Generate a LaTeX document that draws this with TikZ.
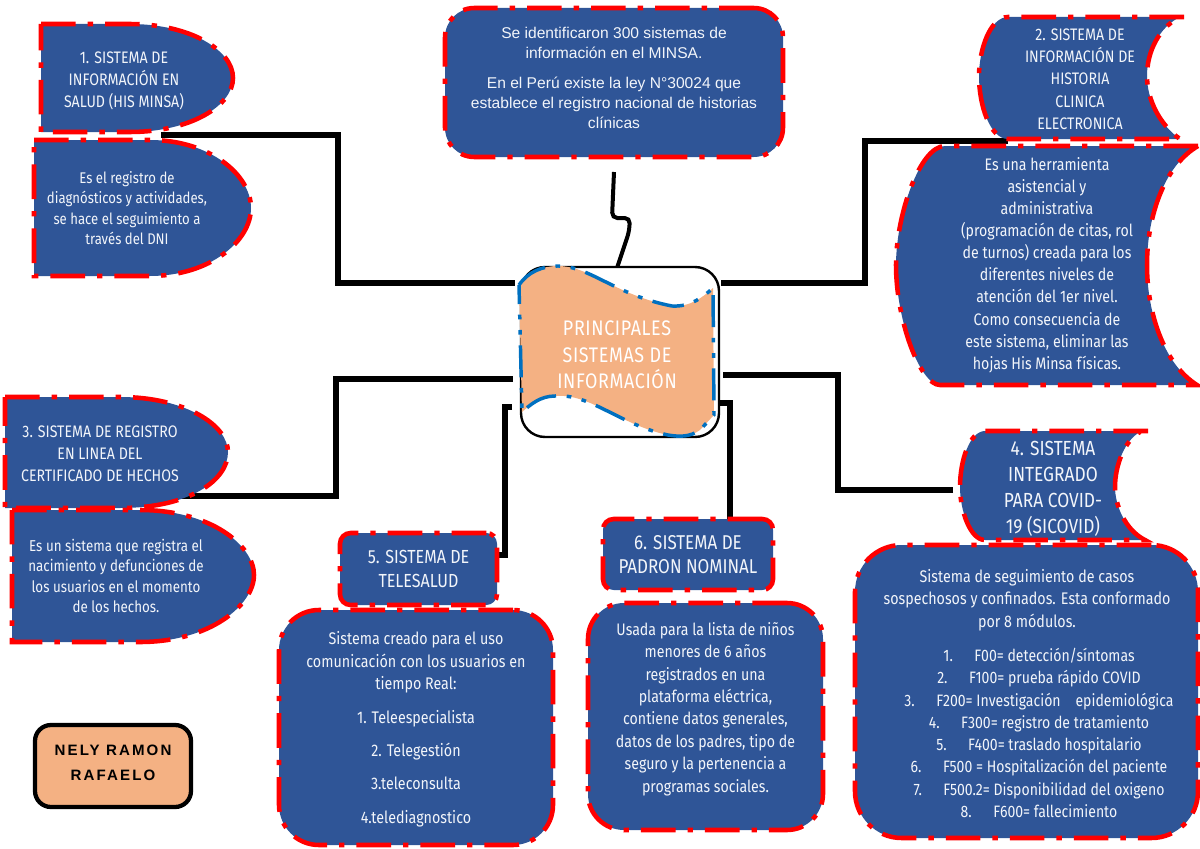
\documentclass[tikz,border=0pt]{standalone}
\usepackage{fontspec}
\setmainfont{Fira Sans}[FakeStretch=0.85]
\newfontfamily\arialf{Liberation Sans}
\newfontfamily\nelyf[LetterSpace=14]{Liberation Sans}
\newfontfamily\hubf[LetterSpace=3,FakeStretch=0.85]{Fira Sans}
\definecolor{boxblue}{HTML}{2F5597}
\definecolor{boxred}{HTML}{FF0000}
\definecolor{wave}{HTML}{0070C0}
\definecolor{peach}{HTML}{F4B183}
\definecolor{txtw}{HTML}{F2F5FA}
\tikzset{
 redbox/.style={fill=boxblue,draw=boxred,line width=3.4pt,dash pattern=on 26pt off 9pt on 4pt off 9pt},
 roundbox/.style={redbox,rounded corners=#1,inner sep=0pt,text=txtw,align=center},
 txt/.style={text=txtw,align=center,inner sep=0pt},
 conn/.style={draw=black,line width=3.8pt,miter limit=10},
}
\begin{document}
\begin{tikzpicture}[x=0.75pt,y=-0.75pt]
\useasboundingbox (0,0) rectangle (1200,849);
% anchor points of connectors
\coordinate (h1) at (515,283);\coordinate (h1b) at (338,283);\coordinate (h1c) at (338,135);\coordinate (s1) at (161,135);
\coordinate (h2) at (721,283);\coordinate (h2b) at (865,283);\coordinate (h2c) at (865,141);\coordinate (s2) at (1008,141);
\coordinate (h3) at (513,379);\coordinate (h3b) at (336,379);\coordinate (h3c) at (336,496);\coordinate (s3) at (180,496);
\coordinate (h4) at (723,375);\coordinate (h4b) at (838,375);\coordinate (h4c) at (838,490);\coordinate (s4) at (953,490);
\coordinate (h5) at (512,407);\coordinate (h5b) at (505,407);\coordinate (h5c) at (505,555);\coordinate (s5) at (497,555);
\coordinate (h6) at (718,403);\coordinate (h6b) at (730,403);\coordinate (s6) at (730,520);
\coordinate (ht) at (617,268);\coordinate (st) at (614,172);
% connectors
\draw[conn] (s1)--(h1c)--(h1b)--(h1);
\draw[conn] (s2)--(h2c)--(h2b)--(h2);
\draw[conn,line width=4.8pt] (s3)--(h3c)--(h3b)--(h3);
\draw[conn] (s4)--(h4c)--(h4b)--(h4);
\draw[conn] (h5)--(h5b)--(h5c)--(s5);
\draw[conn] (h6)--(h6b)--(s6);
\draw[conn,line width=3pt,rounded corners=4pt] (st)--(612,218)--(630,218)--(629,232)--(ht);
% hub
\node[draw=black,line width=1.8pt,fill=white,rounded corners=18pt,minimum width=198*0.75pt,minimum height=170*0.75pt,inner sep=0pt] (hub) at (620,352) {};
\fill[peach] (519,285) .. controls (528,272) and (542,266) .. (558,266) .. controls (590,266) and (615,295) .. (672,306) .. controls (690,307) and (702,298) .. (713,288) -- (714,415) -- (700,430) .. controls (690,437) and (680,437) .. (668,435) .. controls (620,425) and (590,393) .. (555,396) .. controls (540,396) and (530,405) .. (522,412) -- cycle;
\draw[wave,line width=2.6pt,dash pattern=on 24pt off 8pt on 3.5pt off 8pt on 3.5pt off 8pt] (519,285) .. controls (528,272) and (542,266) .. (558,266) .. controls (590,266) and (615,295) .. (672,306) .. controls (690,307) and (702,298) .. (713,288) -- (714,415) -- (700,430) .. controls (690,437) and (680,437) .. (668,435) .. controls (620,425) and (590,393) .. (555,396) .. controls (540,396) and (530,405) .. (522,412) -- cycle;
\node[txt,font=\hubf\fontsize{15.8}{20}\selectfont,text=white] (hubt) at (617,355) {PRINCIPALES\\SISTEMAS DE\\INFORMACIÓN};
% top box
\node[roundbox=22pt,minimum width=338*0.75pt,minimum height=149*0.75pt] (top) at (614,82.5) {};
\node[txt,font=\arialf\fontsize{11.7}{15}\selectfont] (topt) at (614,78) {Se identificaron 300 sistemas de\\información en el MINSA.\\[7pt]En el Perú existe la ley N°30024 que\\establece el registro nacional de historias\\clínicas};
% 1
\draw[redbox] (41,24) -- (130,24) .. controls (190,24) and (233,50) .. (233,78) .. controls (233,106) and (190,132) .. (130,132) -- (41,132) -- cycle;
\node[txt,font=\fontsize{12.5}{16.5}\selectfont] (t1) at (124,81) {1. SISTEMA DE\\INFORMACIÓN EN\\SALUD (HIS MINSA)};
\draw[redbox] (34,140) -- (150,140) .. controls (210,140) and (251,175) .. (251,208) .. controls (251,241) and (210,276) .. (150,276) -- (34,276) -- cycle;
\node[txt,font=\fontsize{11.6}{15.2}\selectfont] (t1b) at (127,208) {Es el registro de\\diagnósticos y actividades,\\se hace el seguimiento a\\través del DNI};
% 2
\draw[redbox] (1184,17) -- (1008,17) .. controls (990,17) and (979,50) .. (979,76) .. controls (979,105) and (990,139) .. (1008,139) -- (1180,139) .. controls (1160,125) and (1147,100) .. (1147,76) .. controls (1147,50) and (1160,28) .. (1178,18);
\node[txt,font=\fontsize{12.5}{16.7}\selectfont] (t2) at (1080,79) {2. SISTEMA DE\\INFORMACIÓN DE\\HISTORIA\\CLINICA\\ELECTRONICA};
\draw[redbox] (1198,146) -- (945,146) .. controls (920,146) and (896,215) .. (896,265) .. controls (896,320) and (920,385) .. (940,385) -- (1197,385) .. controls (1165,365) and (1147,315) .. (1147,265) .. controls (1147,215) and (1165,165) .. (1198,146);
\node[txt,font=\fontsize{12.5}{16.6}\selectfont] (t2b) at (1047,265) {Es una herramienta\\asistencial y\\administrativa\\(programación de citas, rol\\de turnos) creada para los\\diferentes niveles de\\atención del 1er nivel.\\Como consecuencia de\\este sistema, eliminar las\\hojas His Minsa físicas.};
% 3
\draw[redbox] (5,397) -- (120,397) .. controls (185,397) and (228,425) .. (228,452) .. controls (228,480) and (190,508) .. (120,508) -- (5,508) -- cycle;
\node[txt,font=\fontsize{12.5}{16.5}\selectfont] (t3) at (100,454) {3. SISTEMA DE REGISTRO\\EN LINEA DEL\\CERTIFICADO DE HECHOS};
\draw[redbox] (12,510) -- (140,510) .. controls (210,510) and (254,545) .. (254,575) .. controls (254,605) and (210,642) .. (140,642) -- (12,642) -- cycle;
\node[txt,font=\fontsize{11.8}{15.2}\selectfont] (t3b) at (116,576) {Es un sistema que registra el\\nacimiento y defunciones de\\los usuarios en el momento\\de los hechos.};
% 4
\draw[redbox] (1148,431) -- (985,431) .. controls (970,431) and (960,460) .. (960,487) .. controls (960,510) and (970,540) .. (985,540) -- (1145,540) .. controls (1125,530) and (1115,505) .. (1115,487) .. controls (1115,465) and (1125,440) .. (1140,432);
\begin{scope}
\clip (960,431) rectangle (1150,535);
\node[txt,font=\fontsize{15.3}{19.4}\selectfont] (t4) at (1053,489) {4. SISTEMA\\INTEGRADO\\PARA COVID-\\19 (SICOVID)};
\end{scope}
\node[roundbox=35pt,minimum width=343*0.75pt,minimum height=293*0.75pt] (b4) at (1026.5,691.5) {};
\node[txt,font=\fontsize{12.6}{17}\selectfont] (t4a) at (1027,600) {Sistema de seguimiento de casos\\sospechosos y confinados. Esta conformado\\por 8 módulos.};
\node[txt,font=\fontsize{12.4}{16.7}\selectfont] (t4c) at (1039,733) {1.\hspace{1.3em}F00= detección/síntomas\\2.\hspace{1.3em}F100= prueba rápido COVID\\3.\hspace{1.3em}F200= Investigación\hspace{0.9em}epidemiológica\\4.\hspace{1.3em}F300= registro de tratamiento\\5.\hspace{1.3em}F400= traslado hospitalario\\6.\hspace{1.3em}F500 = Hospitalización del paciente\\7.\hspace{1.3em}F500.2= Disponibilidad del oxigeno\\8.\hspace{1.3em}F600= fallecimiento};
% 5
\node[roundbox=8pt,minimum width=157*0.75pt,minimum height=72*0.75pt,font=\fontsize{14.2}{18}\selectfont] (b5) at (418.5,569) {5. SISTEMA DE\\TELESALUD};
\node[roundbox=30pt,minimum width=274*0.75pt,minimum height=235*0.75pt] (b5b) at (416,727.5) {};
\node[txt,font=\fontsize{12.6}{17}\selectfont] (t5b) at (416,729) {Sistema creado para el uso\\comunicación con los usuarios en\\tiempo Real:\\[8pt]1. Teleespecialista\\[8pt]2. Telegestión\\[8pt]3.teleconsulta\\[8pt]4.telediagnostico};
% 6
\node[roundbox=8pt,minimum width=170*0.75pt,minimum height=71*0.75pt,font=\fontsize{15}{18}\selectfont] (b6) at (688,554.5) {6. SISTEMA DE\\PADRON NOMINAL};
\node[roundbox=27pt,minimum width=235*0.75pt,minimum height=227*0.75pt] (b6b) at (705.5,716.5) {};
\node[txt,font=\fontsize{12.5}{16.8}\selectfont] (t6b) at (705.5,709) {Usada para la lista de niños\\menores de 6 años\\registrados en una\\plataforma eléctrica,\\contiene datos generales,\\datos de los padres, tipo de\\seguro y la pertenencia a\\programas sociales.};
% name
\node[draw=black,line width=3.2pt,fill=peach,rounded corners=12pt,minimum width=156*0.75pt,minimum height=82*0.75pt,inner sep=0pt] (name) at (113,766) {};
\node[align=center,inner sep=0pt,font=\nelyf\bfseries\fontsize{11.3}{19}\selectfont] (namet) at (113,763) {NELY RAMON\\RAFAELO};
\end{tikzpicture}
\end{document}
